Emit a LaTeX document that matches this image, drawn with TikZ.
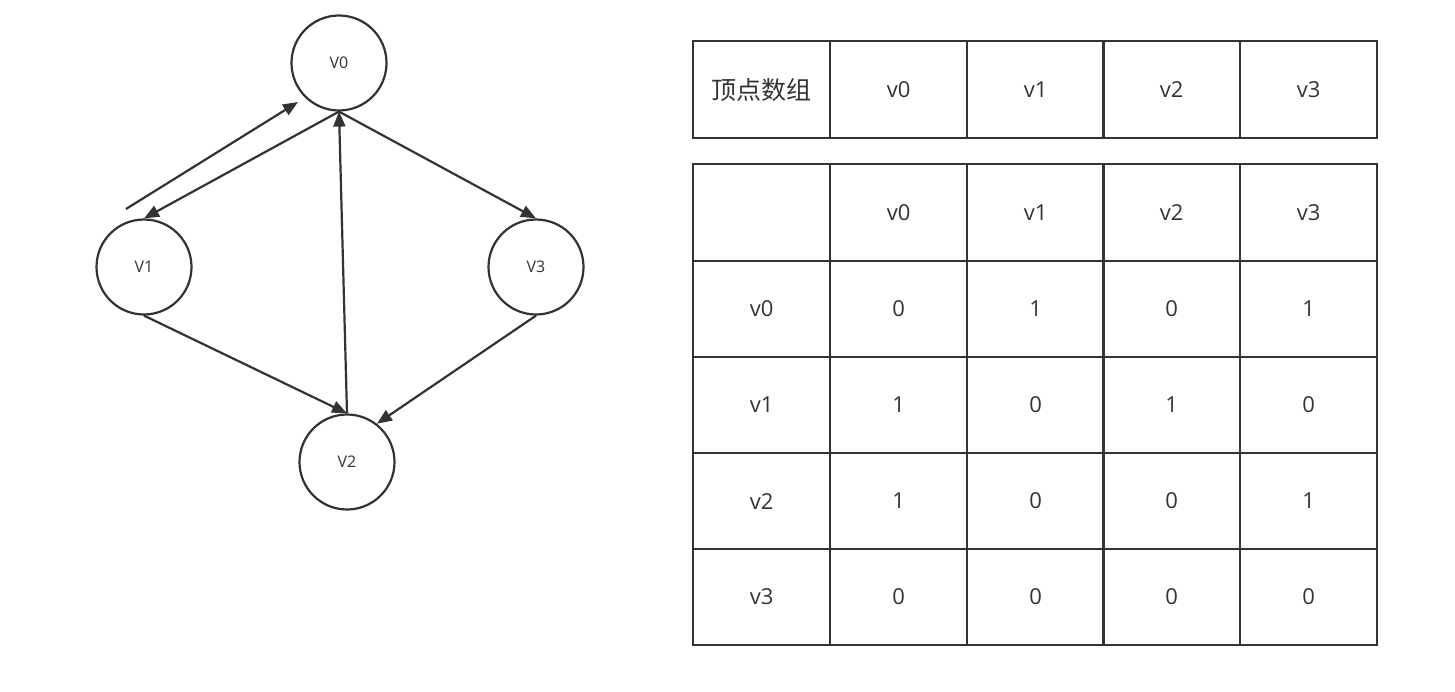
\documentclass[tikz,border=0pt]{standalone}
\usepackage{fontspec}
\setmainfont{Open Sans}
\newfontfamily\cjk{Noto Sans CJK SC}
\usetikzlibrary{arrows.meta}
\definecolor{ink}{HTML}{333333}
\begin{document}
\begin{tikzpicture}[x=1pt,y=-1pt,
  vertex/.style={circle, draw=ink, line width=2.2pt, minimum size=95pt, inner sep=0pt, text=ink, font=\fontsize{16}{16}\selectfont},
  edge/.style={draw=ink, line width=2.2pt, -{Triangle[length=15pt,width=12pt]}},
  cell/.style={draw=ink, line width=2.2pt, minimum width=137pt, minimum height=96pt, inner sep=0pt, anchor=north west, text=ink, font=\fontsize{22}{22}\selectfont},
  cjktext/.style={font=\cjk\fontsize{25}{25}\selectfont}]
\useasboundingbox (0,0) rectangle (1455,692);
% graph
\node[vertex] (v0) at (339,63) {V0};
\node[vertex] (v1) at (144,267) {V1};
\node[vertex] (v3) at (536,267) {V3};
\node[vertex] (v2) at (347,462) {V2};
\coordinate (fs) at (126,209);
\coordinate (fe) at (298,102);
\draw[edge] (fs) -- (fe);
\draw[edge] (v0.south) -- (v1.north);
\draw[edge] (v2.north) -- (v0.south);
\draw[edge] (v0.south) -- (v3.north);
\draw[edge] (v1.south) -- (v2.north);
\draw[edge] (v3.south) -- (v2.52);
% vertex array
\node[cell, cjktext, minimum height=97pt] (a0) at (692,40) {顶点数组};
\node[cell, minimum height=97pt] (a1) at (829,40) {v0};
\node[cell, minimum height=97pt] (a2) at (966,40) {v1};
\node[cell, minimum height=97pt] (a3) at (1102,40) {v2};
\node[cell, minimum height=97pt] (a4) at (1239,40) {v3};
% matrix header
\node[cell, minimum height=97pt] (h0) at (692,163) {};
\node[cell, minimum height=97pt] (h1) at (829,163) {v0};
\node[cell, minimum height=97pt] (h2) at (966,163) {v1};
\node[cell, minimum height=97pt] (h3) at (1102,163) {v2};
\node[cell, minimum height=97pt] (h4) at (1239,163) {v3};
% rows
\node[cell] (r00) at (692,260) {v0};
\node[cell] (r01) at (829,260) {0};
\node[cell] (r02) at (966,260) {1};
\node[cell] (r03) at (1102,260) {0};
\node[cell] (r04) at (1239,260) {1};
\node[cell] (r10) at (692,356) {v1};
\node[cell] (r11) at (829,356) {1};
\node[cell] (r12) at (966,356) {0};
\node[cell] (r13) at (1102,356) {1};
\node[cell] (r14) at (1239,356) {0};
\node[cell] (r20) at (692,452) {v2};
\node[cell] (r21) at (829,452) {1};
\node[cell] (r22) at (966,452) {0};
\node[cell] (r23) at (1102,452) {0};
\node[cell] (r24) at (1239,452) {1};
\node[cell] (r30) at (692,548) {v3};
\node[cell] (r31) at (829,548) {0};
\node[cell] (r32) at (966,548) {0};
\node[cell] (r33) at (1102,548) {0};
\node[cell] (r34) at (1239,548) {0};
\end{tikzpicture}
\end{document}
